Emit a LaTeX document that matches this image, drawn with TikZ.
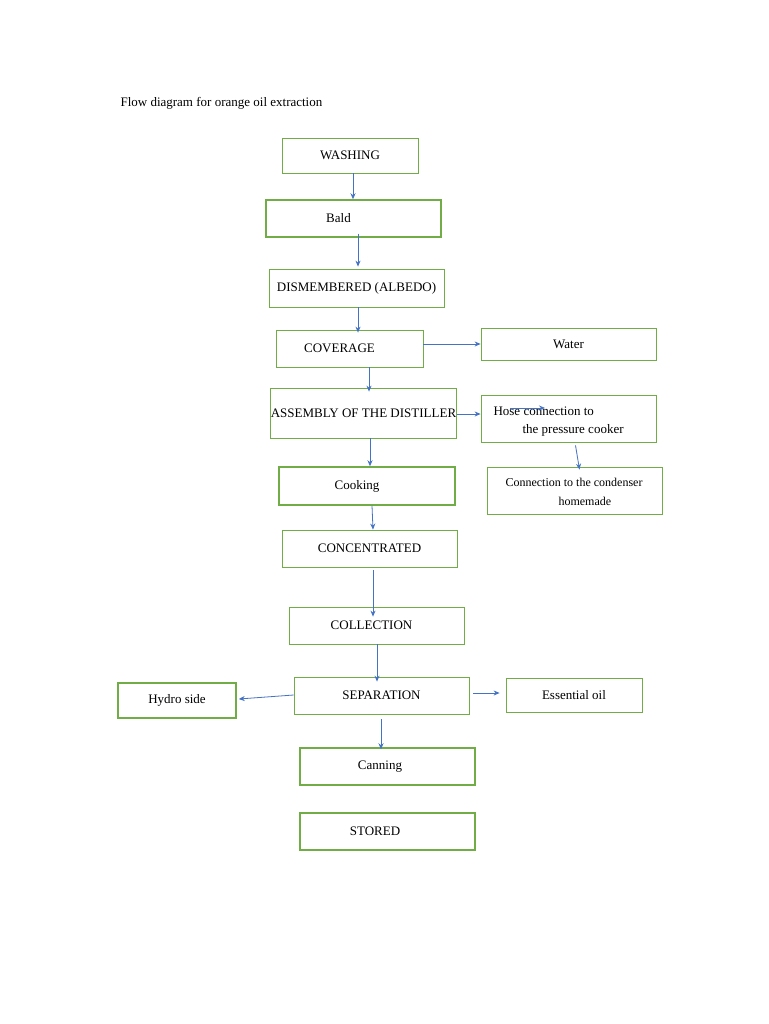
\documentclass[tikz,border=0pt]{standalone}
\usepackage{fontspec}
\setmainfont{Liberation Serif}
\usetikzlibrary{arrows.meta}
\definecolor{bgreen}{HTML}{70AD47}
\definecolor{ablue}{HTML}{4472C4}
\begin{document}
\begin{tikzpicture}[x=1pt,y=-1pt,
  box/.style={draw=bgreen,line width=0.8pt,inner sep=0pt,font=\fontsize{13}{15}\selectfont},
  tbox/.style={box,line width=1.5pt},
  arr/.style={draw=ablue,line width=0.8pt,-{Stealth[length=6pt,width=5pt]}}]
\useasboundingbox[fill=white] (0,0) rectangle (768,1024);
\newcommand{\bx}[7]{\node[#1,minimum width=#4-#2,minimum height=#5-#3] (#6) at ({(#2+#4)/2},{(#3+#5)/2}) {#7};}
\node[anchor=west,font=\fontsize{13}{15}\selectfont] (title) at (117,103) {Flow diagram for orange oil extraction};
\bx{box}{282}{138}{418}{173}{w}{WASHING}
\bx{tbox}{266}{200}{441}{237}{b}{\hspace*{-30pt}Bald}
\bx{box}{269}{269}{444}{307}{d}{DISMEMBERED (ALBEDO)}
\bx{box}{276}{330}{423}{367}{c}{\hspace*{-20pt}COVERAGE}
\bx{box}{481}{328}{656}{360}{wa}{Water}
\bx{box}{276}{388}{451}{438}{a}{ASSEMBLY OF THE DISTILLER}
\node[box,minimum width=175,minimum height=47,align=left] (h) at (568.5,418.5) {};
\node[font=\fontsize{13}{15}\selectfont,anchor=west] (ht1) at (490,411) {Hose connection to};
\node[font=\fontsize{13}{15}\selectfont,anchor=west] (ht2) at (519,430) {the pressure cooker};
\node[box,minimum width=175,minimum height=47] (cn) at (574.5,490.5) {};
\node[font=\fontsize{12}{14}\selectfont,anchor=west] (ct1) at (502,482) {Connection to the condenser};
\node[font=\fontsize{12}{14}\selectfont,anchor=west] (ct2) at (555,501) {homemade};
\bx{tbox}{279}{467}{455}{505}{k}{\hspace*{-20pt}Cooking}
\bx{box}{282}{530}{457}{567}{co}{CONCENTRATED}
\bx{box}{289}{607}{464}{644}{cl}{\hspace*{-10pt}COLLECTION}
\bx{box}{294}{677}{469}{714}{s}{SEPARATION}
\bx{tbox}{118}{683}{236}{718}{hy}{Hydro side}
\bx{box}{506}{678}{642}{712}{e}{Essential oil}
\bx{tbox}{300}{748}{475}{785}{ca}{\hspace*{-15pt}Canning}
\bx{tbox}{300}{813}{475}{850}{st}{\hspace*{-25pt}STORED}
\draw[arr] (w.south -| 353,0) -- (b.north -| 353,0);
\draw[arr] ([yshift=4pt]b.south -| 358,0) -- ([yshift=2pt]d.north -| 358,0);
\draw[arr] (d.south -| 358,0) -- ([yshift=-3pt]c.north -| 358,0);
\draw[arr] (c.east |- 0,344) -- (wa.west |- 0,344);
\draw[arr] (c.south -| 369,0) -- ([yshift=-4pt]a.north -| 369,0);
\draw[arr] (a.east |- 0,414) -- (h.west |- 0,414);
\coordinate (hs) at (510,408); \coordinate (he) at (545,408);
\draw[arr] (hs) -- (he);
\draw[arr] ([xshift=7pt,yshift=-3pt]h.south) -- ([xshift=5pt,yshift=-3pt]cn.north);
\draw[arr] (a.south -| 370,0) -- (k.north -| 370,0);
\draw[arr] (k.south -| 372,0) -- (co.north -| 373,0);
\draw[arr] ([yshift=-3pt]co.south -| 373,0) -- ([yshift=-10pt]cl.north -| 373,0);
\draw[arr] (cl.south -| 377,0) -- ([yshift=-5pt]s.north -| 377,0);
\draw[arr] (s.west |- 0,695) -- ([xshift=2pt]hy.east |- 0,699);
\draw[arr] ([xshift=4pt]s.east |- 0,693) -- ([xshift=-6pt]e.west |- 0,693);
\draw[arr] ([yshift=-5pt]s.south -| 381,0) -- ([yshift=-2pt]ca.north -| 381,0);
\end{tikzpicture}
\end{document}
